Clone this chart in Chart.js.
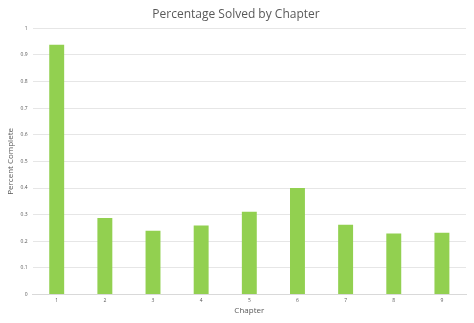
<!DOCTYPE html>
<html>
<head>
<meta charset="utf-8">
<script src="https://cdn.jsdelivr.net/npm/chart.js@4"></script>
<style>
  html, body { margin: 0; padding: 0; background: #fff; }
  #wrap { width: 474px; height: 323px; }
</style>
</head>
<body>
<div id="wrap"><canvas id="c"></canvas></div>
<script>
const chapters = ['1', '2', '3', '4', '5', '6', '7', '8', '9'];
const percentSolved = [0.939, 0.287, 0.239, 0.259, 0.311, 0.40, 0.262, 0.229, 0.232];
const yTicks = [0, 0.1, 0.2, 0.3, 0.4, 0.5, 0.6, 0.7, 0.8, 0.9, 1];

const data = {
    labels: chapters,
    datasets: [{
        label: 'Percent Complete',
        data: percentSolved,
        backgroundColor: '#92d050',
        borderWidth: 0,
        barPercentage: 0.62,
        categoryPercentage: 0.5
    }]
};

const config = {
    type: 'bar',
    data: data,
    options: {
        responsive: true,
        maintainAspectRatio: false,
        animation: false,
        layout: { padding: { left: 6, right: 8, top: 7, bottom: 7 } },
        plugins: {
            legend: { display: false },
            tooltip: { enabled: false },
            title: {
                display: true,
                text: 'Percentage Solved by Chapter',
                color: '#595959',
                font: { family: 'Open Sans', size: 12, weight: 'normal' },
                padding: { top: 0, bottom: 7 }
            }
        },
        scales: {
            x: {
                grid: { display: false, drawTicks: false },
                border: { color: '#d9d9d9' },
                ticks: { color: '#595959', font: { family: 'Open Sans', size: 5 }, padding: 3 },
                title: {
                    display: true, text: 'Chapter', color: '#595959',
                    font: { family: 'Open Sans', size: 8 }, padding: { top: 0, bottom: 0 }
                }
            },
            y: {
                min: 0, max: 1,
                afterBuildTicks: axis => { axis.ticks = yTicks.map(v => ({ value: v })); },
                grid: { color: '#e6e6e6', drawTicks: false },
                border: { display: false },
                ticks: {
                    color: '#595959', font: { family: 'Open Sans', size: 5 }, padding: 5,
                    callback: v => String(Math.round(v * 10) / 10)
                },
                title: {
                    display: true, text: 'Percent Complete', color: '#595959',
                    font: { family: 'Open Sans', size: 8 }, padding: { top: 0, bottom: 0 }
                }
            }
        }
    }
};

let c = document.getElementById('c').getContext('2d');
new Chart(c, config);
</script>
</body>
</html>
